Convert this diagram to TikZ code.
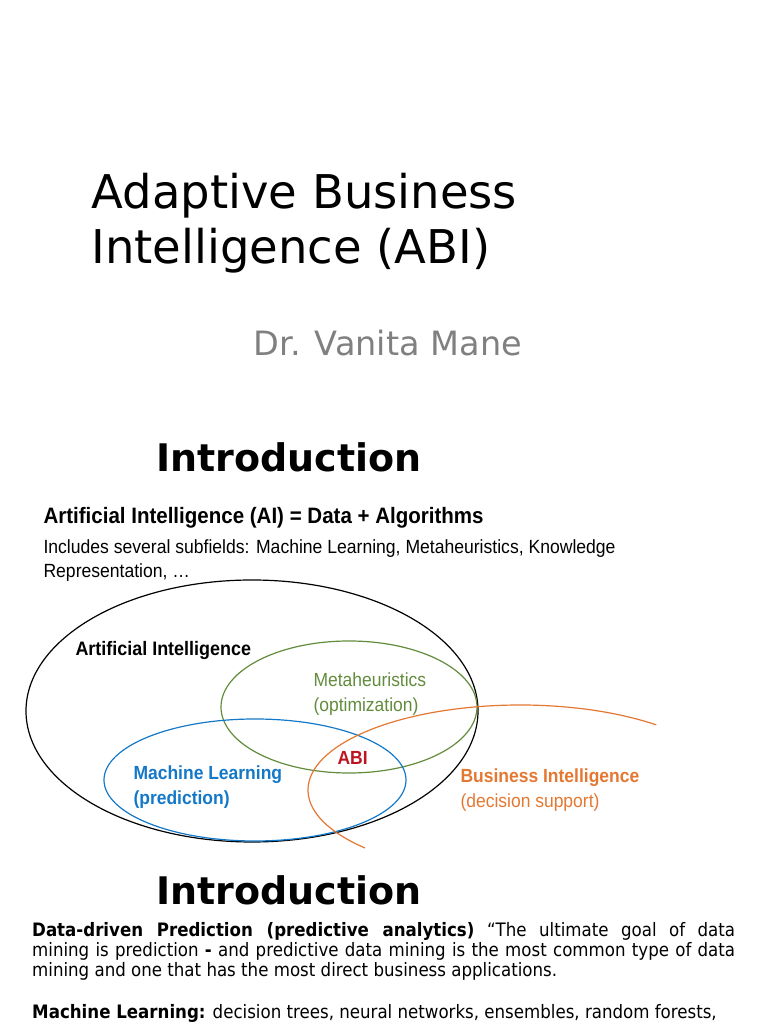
\documentclass[tikz,border=0pt]{standalone}
\usepackage{fontspec}
\setmainfont{DejaVu Sans}
\newfontfamily\narrowfont[FakeStretch=0.92]{Liberation Sans}
\newfontfamily\condfont{DejaVu Sans Condensed}
\usetikzlibrary{positioning}
\definecolor{aigreen}{RGB}{98,140,60}
\definecolor{mlblue}{RGB}{20,120,200}
\definecolor{biorange}{RGB}{228,120,50}
\definecolor{abired}{RGB}{190,20,30}
\hyphenpenalty=10000
\begin{document}
\begin{tikzpicture}[x=1pt, y=1pt,
    title/.style={anchor=base west, font=\fontsize{46.5}{55}\selectfont, align=left},
    heading/.style={anchor=base west, font=\fontsize{38}{44}\selectfont\bfseries},
    label/.style={anchor=base west, font=\narrowfont\fontsize{19}{25}\selectfont, align=left},
    set/.style={line width=1.2pt},
    body/.style={anchor=north west, text width=703pt, align=justify, inner sep=0pt,
      font=\condfont\fontsize{18.5}{20}\selectfont}]
    \useasboundingbox (0,0) rectangle (768,1024);
    % titles
    \node[title] (title) at (88,760) {Adaptive Business\\Intelligence (ABI)};
    \node[anchor=base west, font=\fontsize{33.5}{38}\selectfont, text=gray] (author) at (250,668) {Dr. Vanita Mane};
    \node[heading] (intro1) at (153,552) {Introduction};
    \node[label, font=\narrowfont\fontsize{22.3}{26}\selectfont\bfseries] (eq) at (40,500) {Artificial Intelligence (AI) = Data + Algorithms};
    \node[label, font=\narrowfont\fontsize{19.1}{24}\selectfont] (sub) at (40,446) {Includes several subfields: Machine Learning, Metaheuristics, Knowledge\\Representation, \dots};

    % sets
    \draw[set] (252,313) ellipse [x radius=226, y radius=131];
    \draw[set, aigreen] (349,317) ellipse [x radius=128, y radius=66];
    \draw[set, mlblue] (255,244) ellipse [x radius=151, y radius=61];
    \draw[set, biorange] (520,234) ++(50:212 and 85) arc [start angle=50, end angle=223, x radius=212, y radius=85];

    \node[label, font=\narrowfont\fontsize{19.5}{25}\selectfont\bfseries] (ai) at (72,368) {Artificial Intelligence};
    \node[label, text=aigreen] (meta) at (310,312) {Metaheuristics\\(optimization)};
    \node[label, text=mlblue, font=\narrowfont\fontsize{19}{25}\selectfont\bfseries] (ml) at (130,219) {Machine Learning\\(prediction)};
    \node[label, text=abired, font=\narrowfont\fontsize{19}{25}\selectfont\bfseries] (abi) at (334,259) {ABI};
    \node[label, text=biorange] (bi) at (457,216) {\textbf{Business Intelligence}\\(decision support)};

    \node[heading] (intro2) at (153,119) {Introduction};
    \node[body] (text1) at (32,102) {\textbf{Data-driven Prediction (predictive analytics)} “The ultimate goal of data\linebreak mining is prediction \textbf{-} and predictive data mining is the most common type of data\linebreak mining and one that has the most direct business applications.};
    \node[body] (text2) at (32,20) {\parfillskip=0pt \textbf{Machine Learning:} decision trees, neural networks, ensembles, random forests,};
\end{tikzpicture}
\end{document}
